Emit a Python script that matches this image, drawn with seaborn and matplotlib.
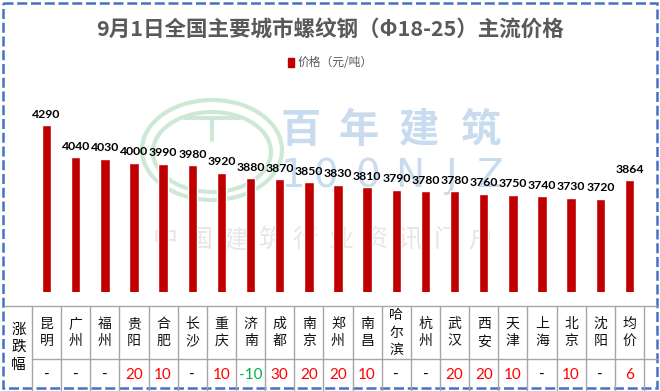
import matplotlib
matplotlib.use("Agg")
import matplotlib.pyplot as plt
import seaborn as sns
import pandas as pd
from matplotlib.patches import Patch, Ellipse, Rectangle

cities = ["昆明", "广州", "福州", "贵阳", "合肥", "长沙", "重庆", "济南", "成都", "南京",
          "郑州", "南昌", "哈尔滨", "杭州", "武汉", "西安", "天津", "上海", "北京", "沈阳", "均价"]
prices = [4290, 4040, 4030, 4000, 3990, 3980, 3920, 3880, 3870, 3850,
          3830, 3810, 3790, 3780, 3780, 3760, 3750, 3740, 3730, 3720, 3864]
changes = [None, None, None, 20, 10, None, 10, -10, 30, 20,
           20, 10, None, None, 20, 20, 10, None, 10, None, 6]

title = "9月1日全国主要城市螺纹钢（Φ18-25）主流价格"
legend_label = "价格（元/吨）"
row_header = "涨跌幅"

df = pd.DataFrame({"city": cities, "price": prices})

sns.set_theme(style="white")
plt.rcParams["font.family"] = ["Noto Sans CJK SC", "DejaVu Sans"]

W, H = 660, 391
fig = plt.figure(figsize=(W / 100, H / 100), dpi=100)

# overlay in pixel coords for table, border, watermark
bg = fig.add_axes([0, 0, 1, 1], zorder=0)
bg.set_xlim(0, W)
bg.set_ylim(H, 0)
bg.axis("off")

# watermark
for cx, ch in zip([301, 359, 419, 480], "百年建筑"):
    bg.text(cx, 130, ch, fontsize=29, color="#C9DCEF", ha="center", va="center", fontweight="bold")
for cx, ch in zip([293, 326, 368, 410, 452, 490], "100NJZ"):
    bg.text(cx, 176, ch, fontsize=28, color="#C9DCEF", ha="center", va="center",
            family=["DejaVu Sans"])
for i, ch in enumerate("中国建筑行业资讯门户"):
    bg.text(165 + 35.1 * i, 240, ch, fontsize=18, color="#E6E6E6", ha="center", va="center")
bg.add_patch(Ellipse((212, 150), 140, 100, fill=False, ec="#CDE9D6", lw=3))
bg.add_patch(Ellipse((212, 152), 118, 80, fill=False, ec="#CDE9D6", lw=3))
bg.plot([185, 240], [118, 118], color="#CDE9D6", lw=3)
bg.plot([212, 212], [118, 140], color="#CDE9D6", lw=3)

# table grid
col_w = (644 - 32) / len(cities)
grid = "#A6A6A6"
bg.plot([5, 657], [306, 306], color=grid, lw=1)
bg.plot([32, 657], [359, 359], color=grid, lw=1)
for k in range(len(cities) + 1):
    x = 32 + col_w * k
    bg.plot([x, x], [306, 391], color=grid, lw=1)


def stacked(x, cy, text, **kw):
    n = len(text)
    for j, ch in enumerate(text):
        bg.text(x, cy + (j - (n - 1) / 2) * 17.5, ch, ha="center", va="center", **kw)


stacked(18.5, 347, row_header, fontsize=10.5, color="#000000")
for i, (c, v) in enumerate(zip(cities, changes)):
    cx = 32 + col_w * (i + 0.5)
    stacked(cx, 332.5, c, fontsize=10, color="#111111")
    if v is None:
        s, col = "-", "#000000"
    else:
        s, col = str(v), ("#FF0000" if v > 0 else "#00B050")
    bg.text(cx, 375, s, ha="center", va="center", fontsize=11, color=col, family=["Lato"])

# dashed outer border
bg.add_patch(Rectangle((2.5, 2.5), 654, 385, fill=False, ec="#4472C4", lw=1.8,
                       linestyle=(0, (4, 1.5))))

# title
bg.text(330, 30, title, ha="center", va="center", fontsize=15.5, fontweight="bold", color="#595959")

# main bar axes
ax = fig.add_axes([32 / W, (H - 292) / H, 612 / W, 194 / H], zorder=1)
ax.patch.set_alpha(0)
sns.barplot(data=df, x="city", y="price", color="#C00000", width=0.32, saturation=1, ax=ax)
ax.set_xlim(-0.5, len(cities) - 0.5)
ax.set_ylim(3000, 4500)
ax.bar_label(ax.containers[0], fmt="%d", padding=4, fontsize=8.8, fontweight="bold",
             family=["Lato"], color="#000000")
ax.set_xlabel("")
ax.set_ylabel("")
ax.set_xticks([])
ax.set_yticks([])
sns.despine(ax=ax, left=True, bottom=True)

ax.legend(handles=[Patch(color="#C00000")], labels=[legend_label], loc="center",
          bbox_to_anchor=(330 / W, 1 - 63 / H), bbox_transform=fig.transFigure,
          frameon=False, handlelength=0.5, handleheight=0.9, handletextpad=0.3,
          prop={"size": 8.5}, labelcolor="#595959")

fig.savefig("out.png", dpi=100)
